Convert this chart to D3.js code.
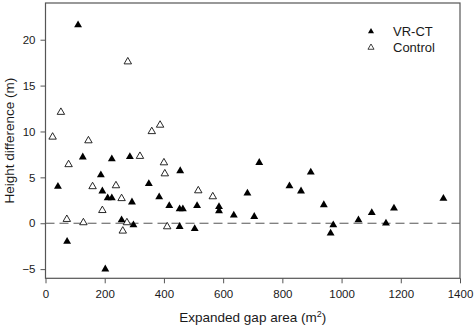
<!DOCTYPE html>
<html>
<head>
<meta charset="utf-8">
<script src="https://cdn.jsdelivr.net/npm/d3@7"></script>
<style>
  html, body { margin: 0; padding: 0; background: #fff; }
  svg { display: block; font-family: "Liberation Sans", Arial, sans-serif; }
</style>
</head>
<body>
<div id="chart"></div>
<script>
// Expanded gap area (m²) and height difference (m), per treatment
const vrctArea = [42, 73, 110, 126, 187, 192, 202, 210, 224, 224, 257, 285, 292, 297, 349, 384,
  418, 453, 455, 453, 464, 504, 512, 586, 586, 636, 682, 705, 722, 824, 863, 896, 940, 963,
  972, 1057, 1102, 1150, 1177, 1344];
const vrctHeight = [4.0, -2.0, 21.6, 7.2, 5.25, 3.5, -5.0, 2.75, 2.75, 7.0, 0.35, 7.25, 2.3, -0.2,
  4.3, 2.85, 1.9, -0.37, 5.7, 1.55, 1.55, -0.6, 1.9, 1.8, 1.35, 0.87, 3.26, 0.72, 6.6, 4.05, 3.5,
  5.55, 2.0, -1.09, -0.2, 0.36, 1.15, 0.0, 1.63, 2.7];

const controlArea = [24, 52, 78, 72, 128, 145, 159, 192, 238, 257, 261, 275, 278, 319, 359, 387,
  400, 403, 411, 516, 565];
const controlHeight = [9.4, 12.1, 6.4, 0.43, 0.07, 9.0, 4.0, 1.4, 4.1, 2.7, -0.84, 0.07, 17.6, 7.3,
  10.0, 10.7, 6.6, 5.4, -0.37, 3.55, 2.9];

const xTicks = [0, 200, 400, 600, 800, 1000, 1200, 1400];
const yTicks = [-5, 0, 5, 10, 15, 20];
const seriesNames = ["VR-CT", "Control"];

const W = 474, H = 327;
const plot = { left: 45.5, right: 460, top: 3, bottom: 278.3 };

const svg = d3.select("#chart").append("svg")
  .attr("width", W).attr("height", H);

const x = d3.scaleLinear().domain([0, 1400]).range([plot.left, plot.right]);
const y = d3.scaleLinear().domain([-6, 24]).range([plot.bottom, plot.top]);

const ink = "#1a1a1a";
const frameColor = "#555";

// Zero reference line
svg.append("line")
  .attr("x1", plot.left).attr("x2", plot.right)
  .attr("y1", y(0)).attr("y2", y(0))
  .attr("stroke", "#555").attr("stroke-width", 1)
  .attr("stroke-dasharray", "9,5");

// Axes
const xAxis = svg.append("g")
  .attr("transform", `translate(0,${plot.bottom})`)
  .call(d3.axisBottom(x).tickValues(xTicks).tickFormat(d3.format("d"))
    .tickSize(5).tickSizeOuter(0).tickPadding(7));
const yAxis = svg.append("g")
  .attr("transform", `translate(${plot.left},0)`)
  .call(d3.axisLeft(y).tickValues(yTicks).tickFormat(d3.format("d"))
    .tickSize(5).tickSizeOuter(0).tickPadding(5));

[xAxis, yAxis].forEach(g => {
  g.select(".domain").remove();
  g.selectAll(".tick line").attr("stroke", frameColor).attr("stroke-width", 1);
  g.selectAll(".tick text")
    .attr("fill", ink)
    .style("font-size", "11.5px")
    .style("font-family", "'Liberation Sans', Arial, sans-serif");
});

// Plot frame
svg.append("rect")
  .attr("x", plot.left).attr("y", plot.top)
  .attr("width", plot.right - plot.left).attr("height", plot.bottom - plot.top)
  .attr("fill", "none").attr("stroke", frameColor).attr("stroke-width", 1.2);

// Points
const tri = d3.symbol().type(d3.symbolTriangle);
const controlPts = controlArea.map((a, i) => ({ a, h: controlHeight[i] }));
const vrctPts = vrctArea.map((a, i) => ({ a, h: vrctHeight[i] }));

svg.append("g").selectAll("path")
  .data(controlPts).join("path")
  .attr("d", tri.size(24)())
  .attr("transform", d => `translate(${x(d.a)},${y(d.h)})`)
  .attr("fill", "#fff").attr("stroke", "#111").attr("stroke-width", 0.9);

svg.append("g").selectAll("path")
  .data(vrctPts).join("path")
  .attr("d", tri.size(27)())
  .attr("transform", d => `translate(${x(d.a)},${y(d.h)})`)
  .attr("fill", "#000");

// Axis titles
const xTitle = svg.append("text")
  .attr("x", (plot.left + plot.right) / 2).attr("y", 322)
  .attr("text-anchor", "middle")
  .attr("fill", ink)
  .style("font-size", "13.5px");
xTitle.append("tspan").text("Expanded gap area (m");
xTitle.append("tspan").attr("dy", -5).style("font-size", "9px").text("2");
xTitle.append("tspan").attr("dy", 5).text(")");

svg.append("text")
  .attr("transform", `translate(13.5,${(plot.top + plot.bottom) / 2}) rotate(-90)`)
  .attr("text-anchor", "middle")
  .attr("fill", ink)
  .style("font-size", "13.5px")
  .text("Height difference (m)");

// Legend
const legend = svg.append("g");
const legendRows = [
  { name: seriesNames[0], fill: "#000", stroke: "none", y: 31.5 },
  { name: seriesNames[1], fill: "#fff", stroke: "#111", y: 47.5 }
];
legendRows.forEach(r => {
  legend.append("path")
    .attr("d", tri.size(16)())
    .attr("transform", `translate(371,${r.y})`)
    .attr("fill", r.fill).attr("stroke", r.stroke).attr("stroke-width", 0.8);
  legend.append("text")
    .attr("x", 393).attr("y", r.y + 4.5)
    .attr("fill", ink)
    .style("font-size", "13px")
    .text(r.name);
});
</script>
</body>
</html>
